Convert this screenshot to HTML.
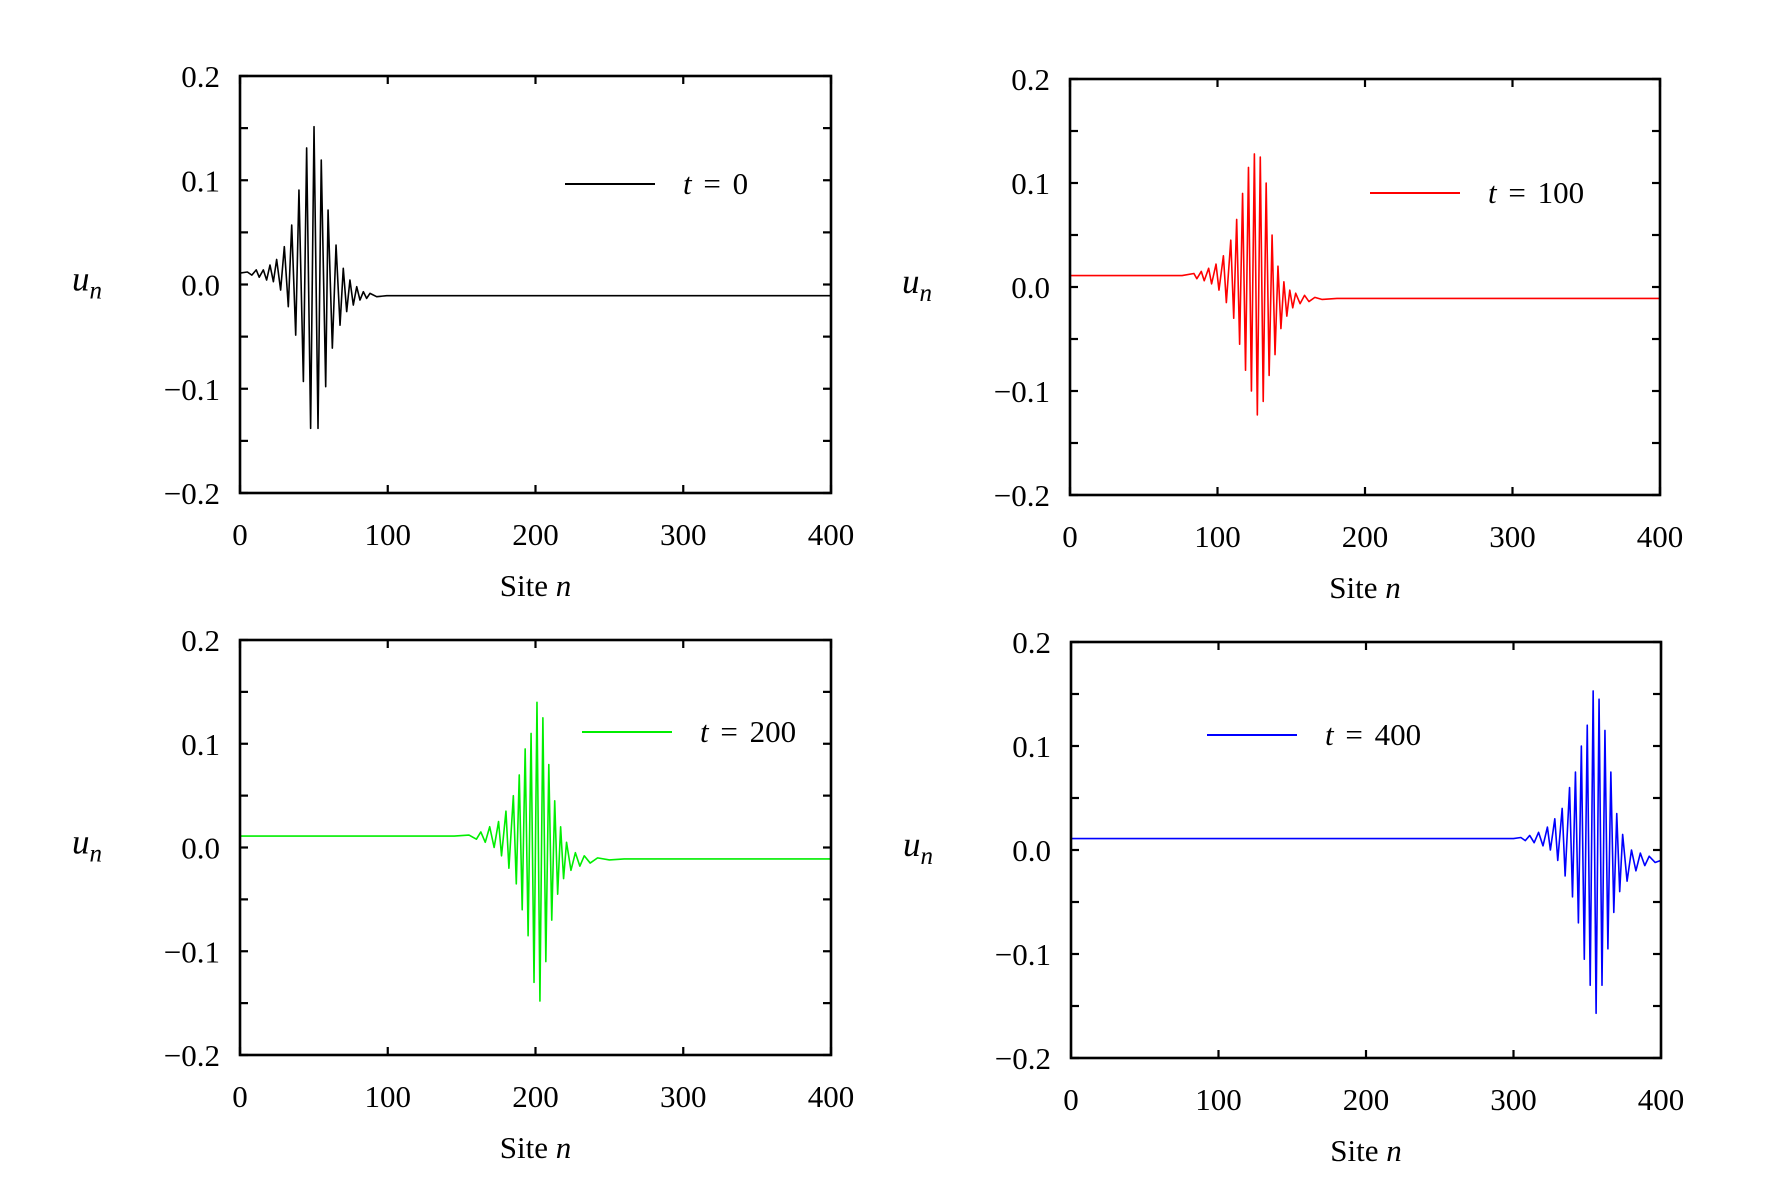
<!DOCTYPE html>
<html><head><meta charset="utf-8">
<style>
html,body{margin:0;padding:0;background:#fff;}
svg{display:block;font-family:"Liberation Serif",serif;}
</style></head>
<body>
<svg id="fig" width="1772" height="1181" viewBox="0 0 1772 1181" xmlns="http://www.w3.org/2000/svg"></svg>
<script>
const xTicks=[0,100,200,300,400];
const yTicks=[-0.2,-0.1,0.0,0.1,0.2];
const yTickLabels=["\u22120.2","\u22120.1","0.0","0.1","0.2"];
const legendLabels=["t = 0","t = 100","t = 200","t = 400"];
const colors=["#000000","#ff0000","#00ee00","#0000ff"];

const n0=[0,5,8,11,13,15.8,18,20.3,22.6,24.8,27.5,30,32.7,35,37.7,39.9,42.9,45.1,47.8,50.1,52.8,55,58,59.6,62.5,65,67.7,69.9,72.2,74.4,76.7,79,81.2,83.5,85.7,88,92.5,99.3,400];
const u0=[0.011,0.012,0.009,0.014,0.007,0.014,0.0043,0.0187,0.0027,0.024,-0.0053,0.0363,-0.0213,0.057,-0.0485,0.0906,-0.093,0.131,-0.138,0.1514,-0.138,0.1194,-0.098,0.0714,-0.061,0.0379,-0.039,0.0155,-0.026,0.0043,-0.0197,-0.0021,-0.0149,-0.0069,-0.0133,-0.0085,-0.0117,-0.0107,-0.0107];

const n100=[0,56,76,84,86,89,91,94,96,99,101,104,106,109,111,113,115,117,119,121,123,125,127,129,131,133,135,137,139,141,143,145,147,149,151,153,156,159,162,166,171,181,400];
const u100=[0.011,0.011,0.011,0.013,0.008,0.015,0.006,0.018,0.003,0.022,-0.003,0.03,-0.015,0.045,-0.03,0.065,-0.055,0.09,-0.08,0.115,-0.1,0.128,-0.123,0.125,-0.11,0.1,-0.085,0.05,-0.065,0.02,-0.04,0.005,-0.028,-0.003,-0.02,-0.006,-0.016,-0.008,-0.014,-0.01,-0.012,-0.011,-0.011];

const n200=[0,145,155,160,163,166,169,172,175,177,180,182,185,187,189,191,193,195,197,199,201,203,205,207,209,211,213,215,217,219,221,224,227,230,233,237,242,250,260,400];
const u200=[0.011,0.011,0.012,0.008,0.015,0.005,0.02,0.0,0.025,-0.008,0.035,-0.02,0.05,-0.035,0.07,-0.06,0.095,-0.085,0.11,-0.13,0.14,-0.148,0.125,-0.11,0.08,-0.07,0.045,-0.045,0.02,-0.03,0.005,-0.022,-0.005,-0.018,-0.008,-0.015,-0.01,-0.012,-0.011,-0.011];

const n400=[0,290,300,305,308,311,314,317,320,323,325,328,330,333,335,338,340,342,344,346,348,350,352,354,356,358,360,362,364,366,368,370,372,374,377,380,383,386,389,392,396,400];
const u400=[0.011,0.011,0.011,0.012,0.009,0.014,0.007,0.017,0.004,0.022,0.0,0.03,-0.01,0.04,-0.025,0.06,-0.045,0.075,-0.07,0.1,-0.105,0.12,-0.13,0.153,-0.157,0.145,-0.13,0.115,-0.095,0.075,-0.06,0.035,-0.04,0.015,-0.03,0.0,-0.02,-0.003,-0.015,-0.006,-0.012,-0.01];

const seriesN=[n0,n100,n200,n400];
const seriesU=[u0,u100,u200,u400];

const panels=[
 {x0:240,x1:831,y0:76,y1:493,lx:565,ly:184,key:"t0"},
 {x0:1070,x1:1660,y0:79,y1:495,lx:1370,ly:193,key:"t100"},
 {x0:240,x1:831,y0:640,y1:1055,lx:582,ly:732,key:"t200"},
 {x0:1071,x1:1661,y0:642,y1:1058,lx:1207,ly:735,key:"t400"}
];
const NS="http://www.w3.org/2000/svg";
const svg=document.getElementById('fig');
function mk(tag,attrs,parent){const e=document.createElementNS(NS,tag);for(const k in attrs)e.setAttribute(k,attrs[k]);(parent||svg).appendChild(e);return e;}

panels.forEach((p,i)=>{
  const g=mk('g',{});
  
  
  const sx=v=>p.x0+(v-0)/(400-0)*(p.x1-p.x0);
  const sy=v=>p.y1-(v+0.2)/0.4*(p.y1-p.y0);
  let d='';
  seriesN[i].forEach((n,k)=>{d+=(k?'L':'M')+sx(n).toFixed(2)+' '+sy(seriesU[i][k]).toFixed(2);});
  const line=mk('path',{d:d,fill:'none',stroke:colors[i],'stroke-width':1.6,'stroke-linejoin':'round'},g);
  
  
  const fr=mk('rect',{x:p.x0,y:p.y0,width:p.x1-p.x0,height:p.y1-p.y0,fill:'none',stroke:'#000','stroke-width':2.6},g);
  
  
  xTicks.forEach(v=>{
    const X=sx(v);
    mk('line',{x1:X,x2:X,y1:p.y1,y2:p.y1-8,stroke:'#000','stroke-width':2.2},g);
    mk('line',{x1:X,x2:X,y1:p.y0,y2:p.y0+8,stroke:'#000','stroke-width':2.2},g);
    const t=mk('text',{x:X,y:p.y1+52,'font-size':31,'text-anchor':'middle'},g);
    t.textContent=String(v);
    
    
  });
  for(let v=-0.2;v<=0.2001;v+=0.05){
    const Y=sy(v);
    mk('line',{x1:p.x0,x2:p.x0+8,y1:Y,y2:Y,stroke:'#000','stroke-width':2.2},g);
    mk('line',{x1:p.x1,x2:p.x1-8,y1:Y,y2:Y,stroke:'#000','stroke-width':2.2},g);
  }
  yTicks.forEach((v,k)=>{
    const t=mk('text',{x:p.x0-20,y:sy(v)+11,'font-size':31,'text-anchor':'end'},g);
    t.textContent=yTickLabels[k];
    
    
  });
  const xt=mk('text',{x:(p.x0+p.x1)/2,y:p.y1+103,'font-size':31,'text-anchor':'middle'},g);
  xt.innerHTML='Site <tspan font-style="italic">n</tspan>';
  
  
  const yt=mk('text',{x:p.x0-168,y:sy(0)+6,'font-size':35,'font-style':'italic'},g);
  yt.innerHTML='u<tspan font-size="25" dy="8">n</tspan>';
  
  
  const lg=mk('g',{},g);
  
  
  mk('line',{x1:p.lx,x2:p.lx+90,y1:p.ly,y2:p.ly,stroke:colors[i],'stroke-width':2},lg);
  const lt=mk('text',{x:p.lx+118,y:p.ly+10,'font-size':31},lg);
  const parts=legendLabels[i].split(' = ');
  lt.innerHTML='<tspan font-style="italic">'+parts[0]+'</tspan> <tspan dx="4">=</tspan> <tspan dx="4">'+parts[1]+'</tspan>';
});
</script>
</body></html>
